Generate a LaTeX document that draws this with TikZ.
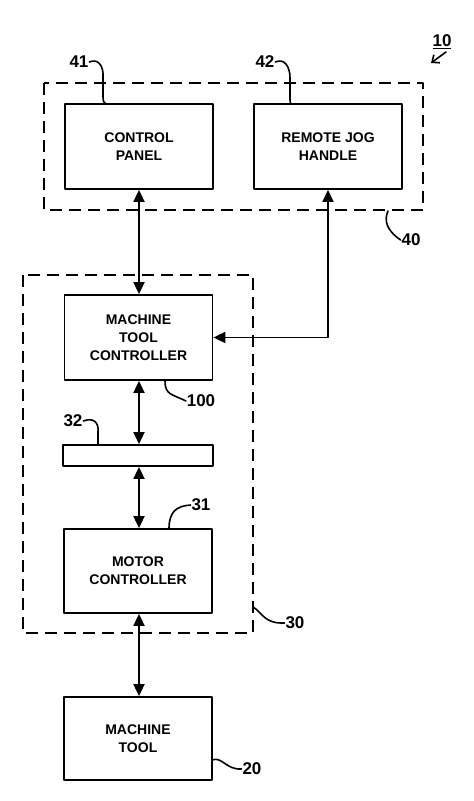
\documentclass[tikz,border=0pt]{standalone}
\usepackage{fontspec}
\setmainfont{Liberation Sans}
\usetikzlibrary{arrows.meta}

\begin{document}
\begin{tikzpicture}[x=1pt, y=-1pt, line width=1.8pt, line cap=round, line join=round,
    blk/.style={draw, rectangle, minimum width=148pt, minimum height=85pt, inner sep=0pt,
      align=center, font=\fontsize{14}{18}\selectfont\bfseries},
    grp/.style={dash pattern=on 12pt off 7pt, line width=1.8pt, line cap=butt},
    num/.style={font=\fontsize{17}{19}\selectfont\bfseries, inner sep=0pt},
    lead/.style={line width=1.6pt},
    bus/.style={{Triangle[length=12pt,width=11pt]}-{Triangle[length=12pt,width=11pt]}, line width=1.8pt}]
    \useasboundingbox (0,0) rectangle (474,801);

    % Gruppen (gestrichelt)
    \draw[grp] (44,83) rectangle (423,210);
    \draw[grp] (23,275) rectangle (253,633);

    % Bloecke
    \node[blk] (cp)  at (139,146.5) {CONTROL\\PANEL};
    \node[blk] (rjh) at (328,146.5) {REMOTE JOG\\HANDLE};
    \node[blk] (mtc) at (138.5,337.5) {MACHINE\\TOOL\\CONTROLLER};
    \node[blk, minimum width=150pt, minimum height=21pt] (bar) at (138,455.5) {};
    \node[blk, minimum height=84pt] (mc) at (138,571) {MOTOR\\CONTROLLER};
    \node[blk, minimum height=83pt] (mt) at (138,738.5) {MACHINE\\TOOL};

    % Verbindungen
    \draw[bus] (cp.south -| 139,0) -- (mtc.north -| 139,0);
    \coordinate (knee) at (rjh.south |- mtc.east);
    \draw[bus] (rjh.south) -- (knee) -- (mtc.east);
    \draw[bus] (mtc.south -| 139,0) -- (bar.north -| 139,0);
    \draw[bus] (bar.south -| 139,0) -- (mc.north -| 139,0);
    \draw[bus] (mc.south -| 139,0) -- (mt.north -| 139,0);

    % Bezugszeichen
    \node[num] (n10) at (442,42) {\underline{10}};
    \draw[lead, -{Straight Barb[length=6pt,width=10pt]}] (446,52) -- (431,63);

    \node[num] (n41) at (79,62) {41};
    \draw[lead] (n41.east) .. controls (98,58) and (104,66) .. (103,78)
      -- (103,97) .. controls (103,101) and (104,103) .. (106,104);

    \node[num] (n42) at (265,62) {42};
    \draw[lead] (n42.east) .. controls (284,58) and (290,66) .. (290,78)
      -- (290,97) .. controls (290,101) and (290,103) .. (291,104);

    \node[num] (n40) at (411,240) {40};
    \draw[lead] (388,211) .. controls (384,220) and (386,230) .. (n40.west);

    \node[num] (n100) at (201,401) {100};
    \draw[lead] (165,381) .. controls (165,395) and (172,394) .. (n100.west);

    \node[num] (n32) at (73,421) {32};
    \draw[lead] (n32.east) .. controls (94,417) and (99,423) .. (98,432) -- (98,445);

    \node[num] (n31) at (201,505) {31};
    \draw[lead] (169,529) .. controls (169,512) and (176,506) .. (n31.west);

    \node[num] (n30) at (295,623) {30};
    \draw[lead] (253,607) .. controls (262,612) and (264,624) .. (n30.west);

    \node[num] (n20) at (252,769) {20};
    \draw[lead] (212,760) .. controls (222,756) and (226,770) .. (n20.west);
\end{tikzpicture}
\end{document}
